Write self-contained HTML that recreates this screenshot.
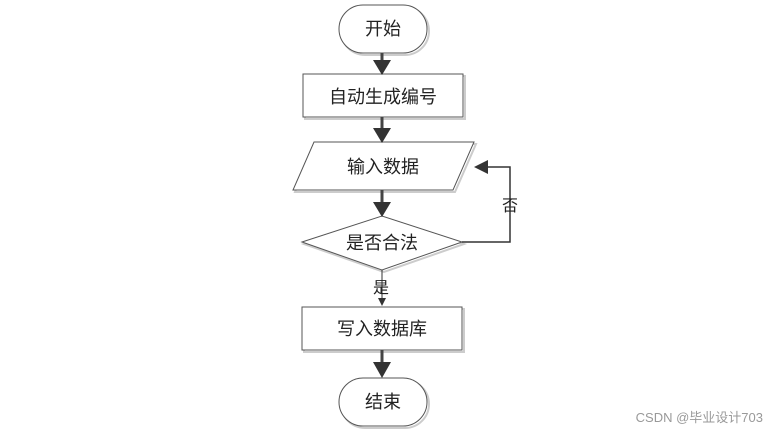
<!DOCTYPE html>
<html><head><meta charset="utf-8"><style>
body{margin:0;background:#fff;}
text{font-family:"Liberation Sans","Noto Sans CJK SC",sans-serif;font-size:18px;fill:#222;}
</style></head><body>
<svg width="769" height="432" viewBox="0 0 769 432" xmlns="http://www.w3.org/2000/svg">
<g fill="none" stroke="#ccc" stroke-width="2">
<rect x="341" y="7" width="88" height="48" rx="24"/>
<rect x="305" y="76" width="160" height="43"/>
<polygon points="316,144 476,144 455,192 295,192"/>
<polygon points="304,244 384,218 464,244 384,272"/>
<rect x="304" y="309" width="160" height="43"/>
<rect x="341" y="380" width="88" height="48" rx="24"/>
</g>
<g fill="#fff" stroke="#555" stroke-width="1">
<rect x="339" y="5" width="88" height="48" rx="24"/>
<rect x="303" y="74" width="160" height="43"/>
<polygon points="314,142 474,142 453,190 293,190"/>
<polygon points="302,242 382,216 462,242 382,270"/>
<rect x="302" y="307" width="160" height="43"/>
<rect x="339" y="378" width="88" height="48" rx="24"/>
</g>
<g stroke="#444" stroke-width="3" fill="none">
<line x1="382" y1="53" x2="382" y2="62"/>
<line x1="382" y1="117" x2="382" y2="130"/>
<line x1="382" y1="190" x2="382" y2="204"/>
<line x1="382" y1="350" x2="382" y2="364"/>
</g>
<polyline points="462,242 510,242 510,167 486,167" stroke="#333" stroke-width="1.5" fill="none"/>
<line x1="382" y1="270" x2="382" y2="298" stroke="#333" stroke-width="1"/>
<g fill="#333">
<polygon points="373,60 391,60 382,75"/>
<polygon points="373,128 391,128 382,143"/>
<polygon points="373,202 391,202 382,217"/>
<polygon points="373,362 391,362 382,378"/>
<polygon points="474,167 488,160 488,174"/>
<polygon points="378,298 386,298 382,306"/>
</g>
<text x="383" y="35" text-anchor="middle">开始</text>
<text x="383" y="103" text-anchor="middle">自动生成编号</text>
<text x="383" y="173" text-anchor="middle">输入数据</text>
<text x="382" y="249" text-anchor="middle">是否合法</text>
<text x="382" y="335" text-anchor="middle">写入数据库</text>
<text x="383" y="408" text-anchor="middle">结束</text>
<text x="510" y="211" text-anchor="middle" style="font-size:16px">否</text>
<text x="381" y="293" text-anchor="middle" style="font-size:16px">是</text>
<text x="763" y="422" text-anchor="end" style="font-size:13px;fill:#999">CSDN @毕业设计703</text>
</svg>
</body></html>
